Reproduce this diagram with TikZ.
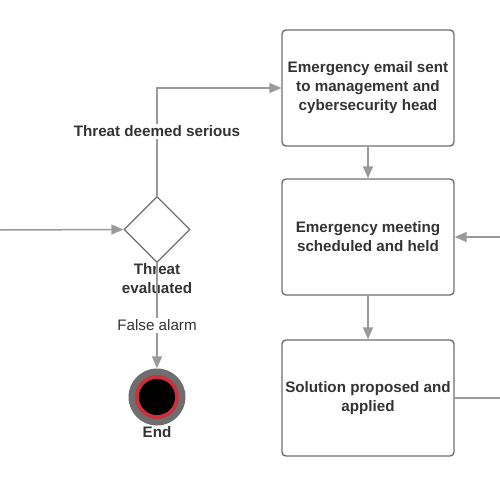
\documentclass[tikz,border=0pt]{standalone}
\usepackage{fontspec}
\setmainfont{Liberation Sans}
\usetikzlibrary{arrows.meta,shapes.geometric}
\definecolor{line_grey}{HTML}{9A9A9A}
\definecolor{box_grey}{HTML}{6E6E6E}
\definecolor{text_grey}{HTML}{333333}
\definecolor{ring_red}{HTML}{C8323C}

\begin{document}
\begin{tikzpicture}[x=1pt,y=-1pt,
    step_box/.style={draw=box_grey,line width=1.4pt,rounded corners=4pt,minimum width=172pt,inner xsep=1pt,minimum height=116pt,align=center,font=\bfseries,text=text_grey},
    choice_node/.style={diamond,draw=box_grey,line width=1.3pt,minimum width=66pt,minimum height=66pt,inner sep=0pt},
    end_node/.style={circle,fill=box_grey,minimum size=57pt,inner sep=0pt,path picture={
        \fill[ring_red] (path picture bounding box.center) circle (22pt);
        \fill[black] (path picture bounding box.center) circle (18pt);}},
    flow/.style={draw=line_grey,line width=1.5pt,-{Triangle[length=12pt,width=10pt]}},
    flow_label/.style={fill=white,text=text_grey,inner sep=2pt}]

    \fontsize{15.2pt}{19pt}\selectfont
    \useasboundingbox (0,0) rectangle (500,500);

    \node[step_box] (email) at (368,88) {Emergency email sent\\to management and\\cybersecurity head};
    \node[step_box] (meeting) at (368,237) {Emergency meeting\\scheduled and held};
    \node[step_box] (solution) at (368,398) {Solution proposed and\\applied};

    \node[choice_node] (evaluated) at (157,229.5) {};
    \node[font=\bfseries,align=center,text=text_grey] (evaluated_label) at (157,279) {Threat\\evaluated};

    \node[end_node] (end) at (157,397) {};
    \node[font=\bfseries,text=text_grey] (end_label) at (157,432) {End};

    \coordinate (in_left) at (0,230);
    \coordinate (in_right) at (500,237);
    \coordinate (out_right) at (500,398);

    \draw[flow] (in_left) -- (evaluated.west);
    \draw[flow] (email) -- (meeting);
    \draw[flow] (meeting) -- (solution);
    \draw[flow] (in_right) -- (meeting.east);

    \draw[flow] (evaluated.north) |- (email.west)
        node[pos=0.3,flow_label,font=\bfseries] {Threat deemed serious};
    \draw[flow] (evaluated.south) -- (end)
        node[pos=0.59,flow_label] {False alarm};
    \draw[draw=line_grey,line width=1.5pt] (solution) -- (out_right);
\end{tikzpicture}
\end{document}
